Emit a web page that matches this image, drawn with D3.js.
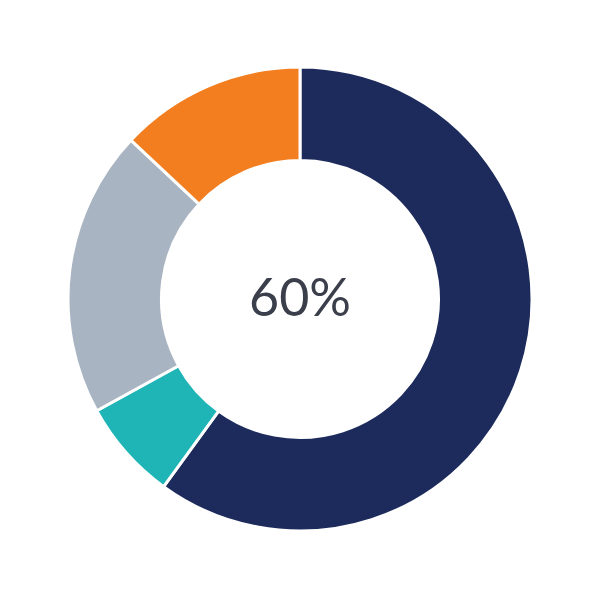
<html>
<head>
<script src="https://cdn.jsdelivr.net/npm/d3@7"></script>
<style>
  body { margin:0; background:#fff; }
  svg { display:block; }
</style>
</head>
<body>
<div id="container"></div>
<script>
var labels = ["A", "B", "C", "D"];
var values = [60, 7, 20, 13];
var colors = ["#1c2b5b", "#1fb5b6", "#a9b4c2", "#f27e20"];
var centerLabel = "60%";

var width = 600, height = 599;
var cx = 300, cy = 299;
var outerR = 232, innerR = 138.5;

var svg = d3.select("#container").append("svg")
  .attr("width", width)
  .attr("height", height);

var pie = d3.pie().sort(null).value(function(d){ return d; });
var arc = d3.arc().innerRadius(innerR).outerRadius(outerR);

var g = svg.append("g").attr("transform", "translate(" + cx + "," + cy + ")");

g.selectAll("path").data(pie(values)).enter().append("path")
  .attr("d", arc)
  .attr("fill", function(d, i){ return colors[i]; })
  .attr("stroke", "#fff")
  .attr("stroke-width", 3);

g.append("text")
  .attr("text-anchor", "middle")
  .attr("dy", "0.33em")
  .attr("font-family", "Lato, sans-serif")
  .attr("font-size", 52)
  .attr("fill", "#3b3f4b")
  .text(centerLabel);
</script>
</body>
</html>
